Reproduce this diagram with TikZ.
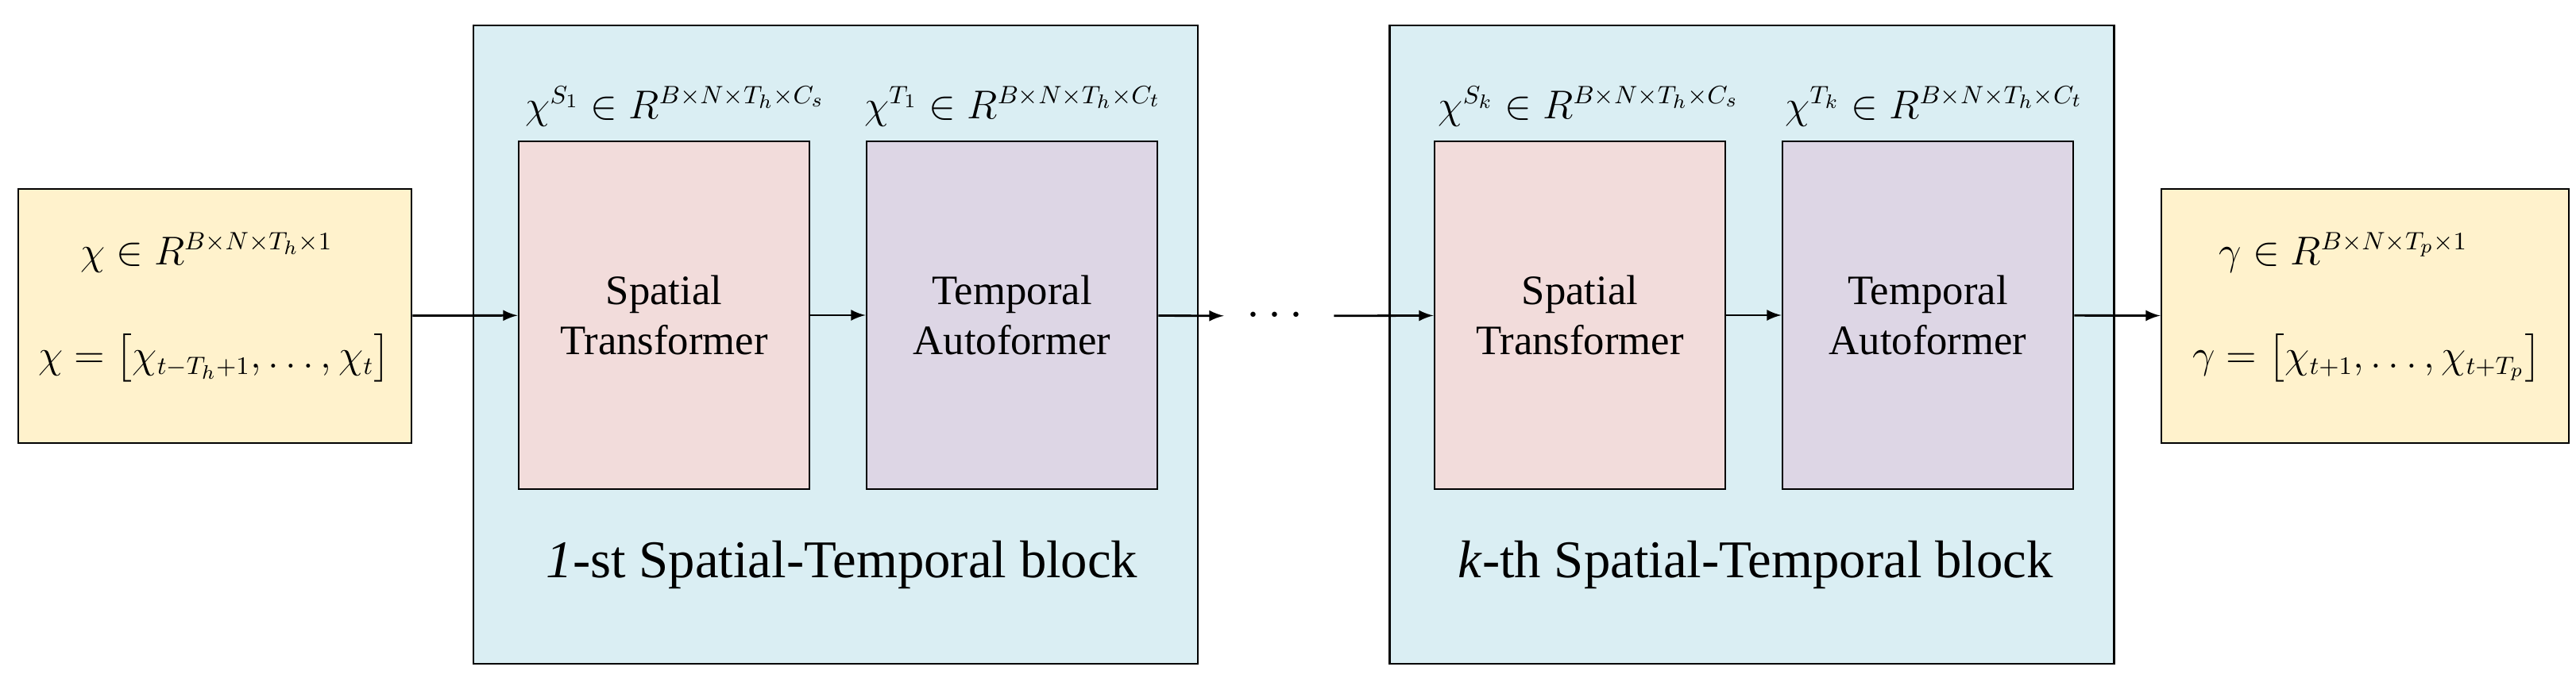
\documentclass[tikz,border=0pt]{standalone}
\usepackage{amsmath}
\usepackage{fontspec}
\setmainfont{Liberation Serif}
\usetikzlibrary{positioning}
\definecolor{inyellow}{HTML}{FFF2CC}
\definecolor{blkblue}{HTML}{DAEEF3}
\definecolor{sppink}{HTML}{F2DCDB}
\definecolor{tmpurple}{HTML}{DDD6E5}
\tikzset{%
	io/.style       = {draw, thick, fill=inyellow, minimum width=4.95cm, minimum height=3.2cm},
	stblock/.style  = {draw, thick, fill=blkblue, minimum width=9.12cm, minimum height=8.04cm},
	spatial/.style  = {draw, thick, fill=sppink, minimum width=3.66cm, minimum height=4.38cm, align=center, font=\fontsize{15}{18}\selectfont},
	temporal/.style = {draw, thick, fill=tmpurple, minimum width=3.66cm, minimum height=4.38cm, align=center, font=\fontsize{15}{18}\selectfont},
	lab/.style      = {font=\fontsize{13.5}{16}\selectfont},
	blab/.style     = {font=\fontsize{19}{23}\selectfont},
	arrow/.style    = {thick,-latex},
}
\begin{document}
\begin{tikzpicture}
	\useasboundingbox (0,0) rectangle (32.43,8.64);
	% input and output
	\node[io] (in) at (2.705,4.66) {};
	\node[lab] (inshape) at (2.6,5.46) {$\chi\in R^{B\times N\times T_h\times 1}$};
	\node[lab] (inseq) at (2.7,4.13) {$\chi=\big[\chi_{t-T_h+1},\dots,\chi_t\big]$};
	\node[io,minimum width=5.13cm] (out) at (29.775,4.66) {};
	\node[lab] (outshape) at (29.5,5.46) {$\gamma\in R^{B\times N\times T_p\times 1}$};
	\node[lab] (outseq) at (29.8,4.13) {$\gamma=\big[\chi_{t+1},\dots,\chi_{t+T_p}\big]$};
	% first block
	\node[stblock] (blk1) at (10.52,4.30) {};
	\node[spatial] (sp1) at (8.36,4.67) {Spatial\\Transformer};
	\node[temporal] (tm1) at (12.74,4.67) {Temporal\\Autoformer};
	\node[lab] at (8.5,7.3) {$\chi^{S_1}\in R^{B\times N\times T_h\times C_s}$};
	\node[lab] at (12.75,7.3) {$\chi^{T_1}\in R^{B\times N\times T_h\times C_t}$};
	\node[blab] (name1) at (10.6,1.53) {\textit{1}-st Spatial-Temporal block};
	% dots
	\node[blab,inner xsep=8pt] (dots) at (16.1,4.66) {$\cdots$};
	% k-th block
	\node[stblock] (blkk) at (22.055,4.30) {};
	\node[spatial] (spk) at (19.89,4.67) {Spatial\\Transformer};
	\node[temporal] (tmk) at (24.27,4.67) {Temporal\\Autoformer};
	\node[lab] at (20.0,7.3) {$\chi^{S_k}\in R^{B\times N\times T_h\times C_s}$};
	\node[lab] at (24.35,7.3) {$\chi^{T_k}\in R^{B\times N\times T_h\times C_t}$};
	\node[blab] (namek) at (22.1,1.53) {\textit{k}-th Spatial-Temporal block};
	% connectors
	\draw[arrow] (in) -- (sp1);
	\draw[arrow] (sp1) -- (tm1);
	\draw[arrow] (tm1) -- (dots);
	\draw[arrow] (dots) -- (spk);
	\draw[arrow] (spk) -- (tmk);
	\draw[arrow] (tmk) -- (out);
\end{tikzpicture}
\end{document}
